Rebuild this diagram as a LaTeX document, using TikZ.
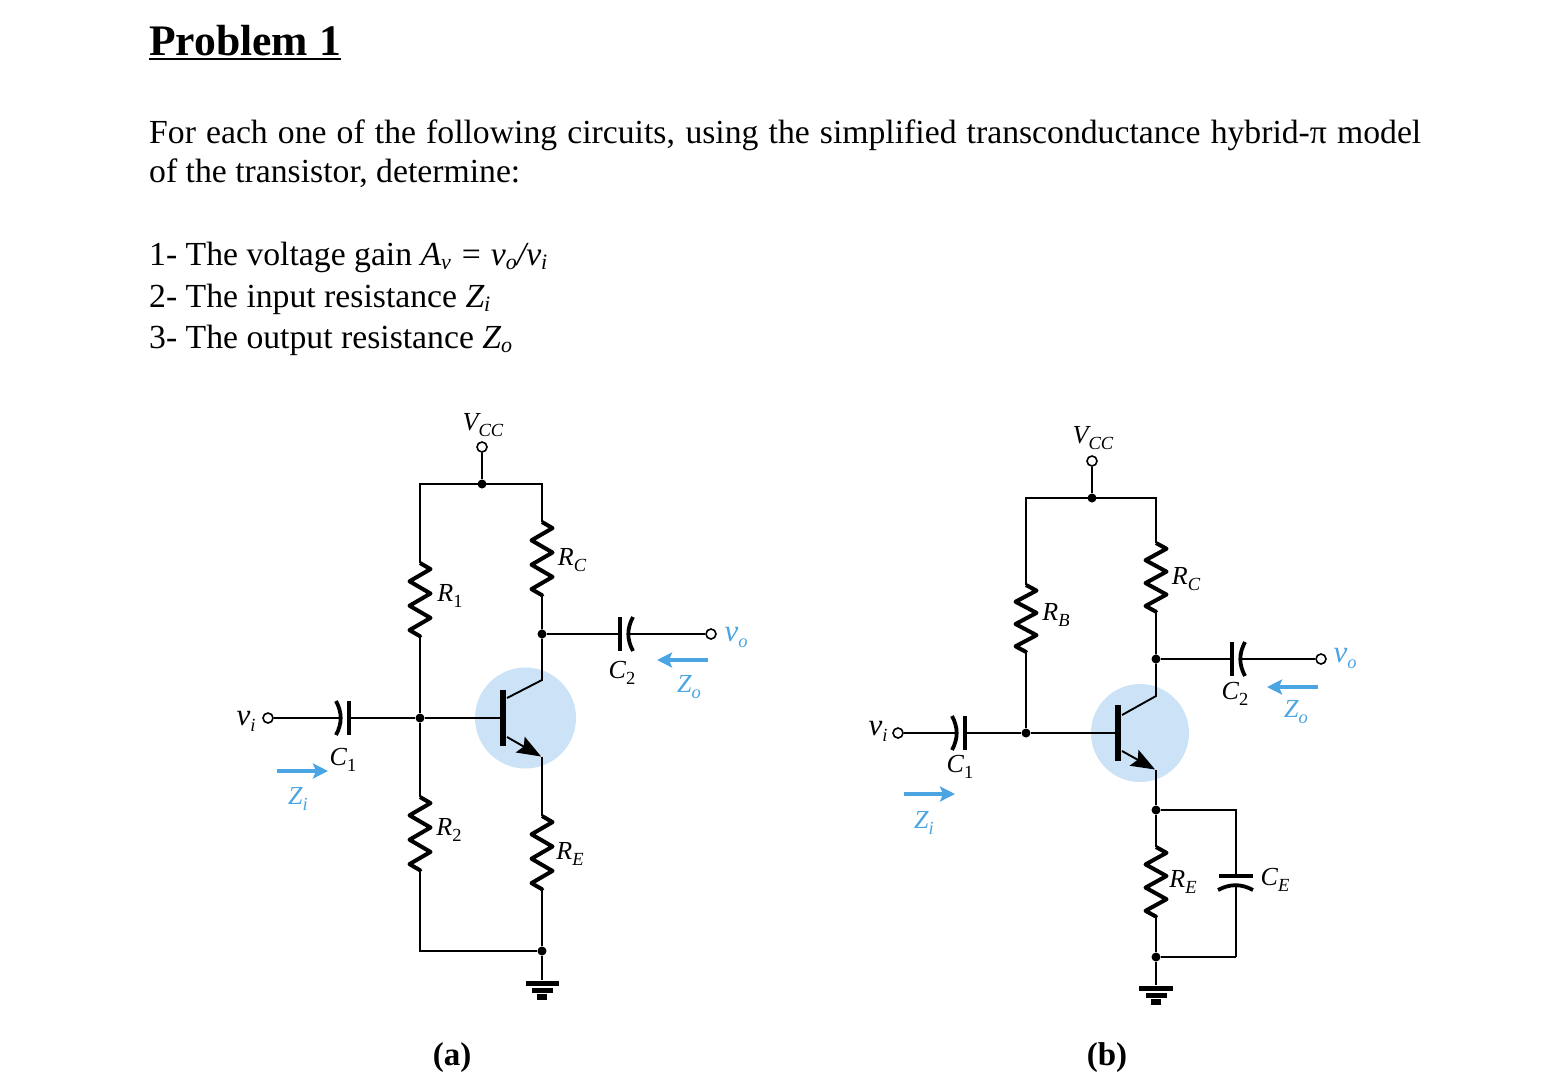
\documentclass[tikz,border=0pt]{standalone}
\usepackage{fontspec}
\setmainfont{Liberation Serif}
\usetikzlibrary{arrows.meta,decorations.pathmorphing}
\definecolor{zblue}{HTML}{4AA5E2}
\definecolor{qblue}{HTML}{CCE2F7}
% symbol with a subscript: \sym{letter}{index}
\newcommand{\sym}[2]{{\itshape #1\raisebox{-6pt}{\fontsize{18.5}{18.5}\selectfont #2}}}
% same thing for the running text
\newcommand{\tsym}[2]{{\itshape #1\raisebox{-4pt}{\fontsize{22}{22}\selectfont #2}}}
\tikzset{
  wire/.style={line width=1.9pt},
  res/.style={line width=4pt,line join=round,decorate,
    decoration={zigzag,segment length=24.4pt,amplitude=10.5pt}},
  dot/.style={circle,fill=black,inner sep=0pt,minimum size=9pt},
  term/.style={circle,draw,line width=1.6pt,fill=white,inner sep=0pt,minimum size=10pt},
  vplate/.style={rectangle,fill=black,inner sep=0pt,minimum width=4.2pt,minimum height=34pt},
  hplate/.style={rectangle,fill=black,inner sep=0pt,minimum width=34pt,minimum height=4.2pt},
  cplate/.style={line width=3.8pt},
  bar/.style={rectangle,fill=black,inner sep=0pt,minimum width=6.5pt,minimum height=56pt},
  halo/.style={circle,fill=qblue,inner sep=0pt},
  gnd/.style={rectangle,fill=black,inner sep=0pt},
  lab/.style={inner sep=0pt,font=\fontsize{26}{26}\selectfont},
  big/.style={font=\fontsize{31}{31}\selectfont},
  zlab/.style={lab,text=zblue},
  zarrow/.style={line width=4pt,draw=zblue,-{Stealth[length=15pt,width=15pt,inset=3pt]}},
  earrow/.style={wire,-{Stealth[length=24pt,width=18pt,inset=4pt]},shorten >=1pt},
  txt/.style={inner sep=0pt,anchor=base west,font=\fontsize{33.7}{39}\selectfont}
}
\begin{document}
\begin{tikzpicture}[x=1pt,y=-1pt]
\useasboundingbox (0,0) rectangle (1562,1088);

% text block
\node[txt,font=\fontsize{43.6}{44}\bfseries\selectfont] (title) at (149,55) {Problem 1};
\draw[line width=2.6pt] ([yshift=-4pt]title.base west) -- ([yshift=-4pt]title.base east);
\node[txt] (intro1) at (149,143)
  {\makebox[1272pt][s]{For each one of the following circuits, using the simplified transconductance hybrid-π model}};
\node[txt] (intro2) at (149,182) {of the transistor, determine:};
\node[txt] (item1) at (149,265) {1- The voltage gain \tsym{A}{v}\kern11pt=\kern10pt\tsym{v}{o}{\itshape/}\tsym{v}{i}};
\node[txt] (item2) at (149,307) {2- The input resistance \tsym{Z}{i}};
\node[txt] (item3) at (149,348) {3- The output resistance \tsym{Z}{o}};

% ---- circuit (a)
\node[halo,minimum size=101pt] (aq) at (525.5,718) {};
\node[bar] (abar) at (503,718) {};
\node[term] (avcc) at (482,447) {};
\node[dot] (atop) at (482,484) {};
\coordinate (atl) at (420,484);
\coordinate (atr) at (542,484);
\coordinate (ar1t) at (420,563);
\coordinate (ar1b) at (420,637);
\node[dot] (ab) at (420,718) {};
\coordinate (ar2t) at (420,797);
\coordinate (ar2b) at (420,871);
\coordinate (abl) at (420,951);
\coordinate (arct) at (542,522);
\coordinate (arcb) at (542,596);
\node[dot] (acn) at (542,634) {};
\coordinate (acol) at (542,680);
\coordinate (acb) at (507,698);
\coordinate (aeb) at (507,737);
\coordinate (aem) at (542,757);
\coordinate (aret) at (542,816);
\coordinate (areb) at (542,890);
\node[dot] (agn) at (542,951) {};
\node[gnd,minimum width=33pt,minimum height=5pt] (ag1) at (542,983) {};
\node[gnd,minimum width=21pt,minimum height=5pt] (ag2) at (542,990) {};
\node[gnd,minimum width=10pt,minimum height=6pt] (ag3) at (542,997) {};
\node[term] (avi) at (268,718) {};
\node[vplate] (ac1s) at (349,718) {};
\coordinate (ac1c) at (341,718);
\coordinate (ac1t) at (336,701);
\coordinate (ac1u) at (336,735);
\node[vplate] (ac2s) at (620,634) {};
\coordinate (ac2c) at (628,634);
\coordinate (ac2t) at (633,617);
\coordinate (ac2u) at (633,651);
\node[term] (avo) at (711,634) {};

\draw[wire] (avcc) -- (atop);
\draw[wire] (ar1t) -- (atl) -- (atr) -- (arct);
\draw[res] (ar1t) -- (ar1b);
\draw[wire] (ar1b) -- (ab) -- (ar2t);
\draw[res] (ar2t) -- (ar2b);
\draw[wire] (ar2b) -- (abl) -- (agn) -- (ag1);
\draw[res] (arct) -- (arcb);
\draw[wire] (arcb) -- (acn) -- (acol) -- (acb);
\draw[earrow] (aeb) -- (aem);
\draw[wire] (aem) -- (aret);
\draw[res] (aret) -- (areb);
\draw[wire] (areb) -- (agn);
\draw[wire] (avi) -- (ac1c);
\draw[cplate] (ac1t) to[bend left=28] (ac1u);
\draw[wire] (ac1s) -- (ab) -- (abar);
\draw[wire] (acn) -- (ac2s);
\draw[cplate] (ac2t) to[bend right=28] (ac2u);
\draw[wire] (ac2c) -- (avo);

\node[lab] (lavcc) at (483,425) {\sym{V}{CC}};
\node[lab] (lar1) at (450,596) {\sym{R}{\upshape 1}};
\node[lab] (larc) at (572,560) {\sym{R}{C}};
\node[lab] (lar2) at (449,830) {\sym{R}{\upshape 2}};
\node[lab] (lare) at (570,854) {\sym{R}{E}};
\node[lab] (lac1) at (343,760) {\sym{C}{\upshape 1}};
\node[lab] (lac2) at (622,673) {\sym{C}{\upshape 2}};
\node[lab,big] (lavi) at (246,721) {\sym{v}{i}};
\node[zlab,big] (lavo) at (736,637) {\sym{v}{o}};
\node[zlab] (lazi) at (298,799) {\sym{Z}{i}};
\node[zlab] (lazo) at (689,687) {\sym{Z}{o}};
\coordinate (azi1) at (277,771);
\coordinate (azi2) at (328,771);
\coordinate (azo1) at (708,660);
\coordinate (azo2) at (657,660);
\draw[zarrow] (azi1) -- (azi2);
\draw[zarrow] (azo1) -- (azo2);

% ---- circuit (b)
\node[halo,minimum size=98pt] (bq) at (1140,733) {};
\node[bar] (bbar) at (1118,733) {};
\node[term] (bvcc) at (1092,461) {};
\node[dot] (btop) at (1092,498) {};
\coordinate (btl) at (1026,498);
\coordinate (btr) at (1156,498);
\coordinate (brbt) at (1026,585);
\coordinate (brbb) at (1026,652);
\node[dot] (bb) at (1026,733) {};
\coordinate (brct) at (1156,543);
\coordinate (brcb) at (1156,612);
\node[dot] (bcn) at (1156,659) {};
\coordinate (bcol) at (1156,696);
\coordinate (bcb) at (1122,715);
\coordinate (beb) at (1122,751);
\coordinate (bem) at (1156,770);
\node[dot] (ben) at (1156,810) {};
\coordinate (bret) at (1156,847);
\coordinate (breb) at (1156,917);
\node[dot] (bgn) at (1156,957) {};
\coordinate (bcr) at (1236,810);
\node[hplate] (bces) at (1236,876) {};
\coordinate (bcec) at (1236,885);
\coordinate (bcel) at (1218,890);
\coordinate (bcer) at (1253,890);
\coordinate (bbr) at (1236,957);
\node[gnd,minimum width=34pt,minimum height=5pt] (bg1) at (1156,988) {};
\node[gnd,minimum width=21pt,minimum height=5pt] (bg2) at (1156,995) {};
\node[gnd,minimum width=10pt,minimum height=6pt] (bg3) at (1156,1002) {};
\node[term] (bvi) at (898,733) {};
\node[vplate] (bc1s) at (965,733) {};
\coordinate (bc1c) at (957,733);
\coordinate (bc1t) at (952,716);
\coordinate (bc1u) at (952,750);
\node[vplate] (bc2s) at (1232,659) {};
\coordinate (bc2c) at (1240,659);
\coordinate (bc2t) at (1245,642);
\coordinate (bc2u) at (1245,676);
\node[term] (bvo) at (1321,659) {};

\draw[wire] (bvcc) -- (btop);
\draw[wire] (brbt) -- (btl) -- (btr) -- (brct);
\draw[res,decoration={segment length=22.3pt}] (brbt) -- (brbb);
\draw[wire] (brbb) -- (bb);
\draw[res,decoration={segment length=22.9pt}] (brct) -- (brcb);
\draw[wire] (brcb) -- (bcn) -- (bcol) -- (bcb);
\draw[earrow] (beb) -- (bem);
\draw[wire] (bem) -- (ben) -- (bret);
\draw[res,decoration={segment length=23.2pt}] (bret) -- (breb);
\draw[wire] (breb) -- (bgn) -- (bg1);
\draw[wire] (ben) -- (bcr) -- (bces);
\draw[cplate] (bcel) to[bend left=28] (bcer);
\draw[wire] (bcec) -- (bbr);
\draw[line width=2.8pt] (bbr) -- (bgn);
\draw[wire] (bvi) -- (bc1c);
\draw[cplate] (bc1t) to[bend left=28] (bc1u);
\draw[wire] (bc1s) -- (bb) -- (bbar);
\draw[wire] (bcn) -- (bc2s);
\draw[cplate] (bc2t) to[bend right=28] (bc2u);
\draw[wire] (bc2c) -- (bvo);

\node[lab] (lbvcc) at (1093,438) {\sym{V}{CC}};
\node[lab] (lbrb) at (1056,615) {\sym{R}{B}};
\node[lab] (lbrc) at (1186,579) {\sym{R}{C}};
\node[lab] (lbre) at (1183,882) {\sym{R}{E}};
\node[lab] (lbce) at (1275,880) {\sym{C}{E}};
\node[lab] (lbc1) at (960,767) {\sym{C}{\upshape 1}};
\node[lab] (lbc2) at (1235,694) {\sym{C}{\upshape 2}};
\node[lab,big] (lbvi) at (878,731) {\sym{v}{i}};
\node[zlab,big] (lbvo) at (1345,658) {\sym{v}{o}};
\node[zlab] (lbzi) at (924,823) {\sym{Z}{i}};
\node[zlab] (lbzo) at (1296,712) {\sym{Z}{o}};
\coordinate (bzi1) at (904,794);
\coordinate (bzi2) at (955,794);
\coordinate (bzo1) at (1318,687);
\coordinate (bzo2) at (1267,687);
\draw[zarrow] (bzi1) -- (bzi2);
\draw[zarrow] (bzo1) -- (bzo2);

\node[inner sep=0pt,font=\fontsize{33}{33}\bfseries\selectfont] (capa) at (452,1058) {(a)};
\node[inner sep=0pt,font=\fontsize{33}{33}\bfseries\selectfont] (capb) at (1107,1058) {(b)};
\end{tikzpicture}
\end{document}
